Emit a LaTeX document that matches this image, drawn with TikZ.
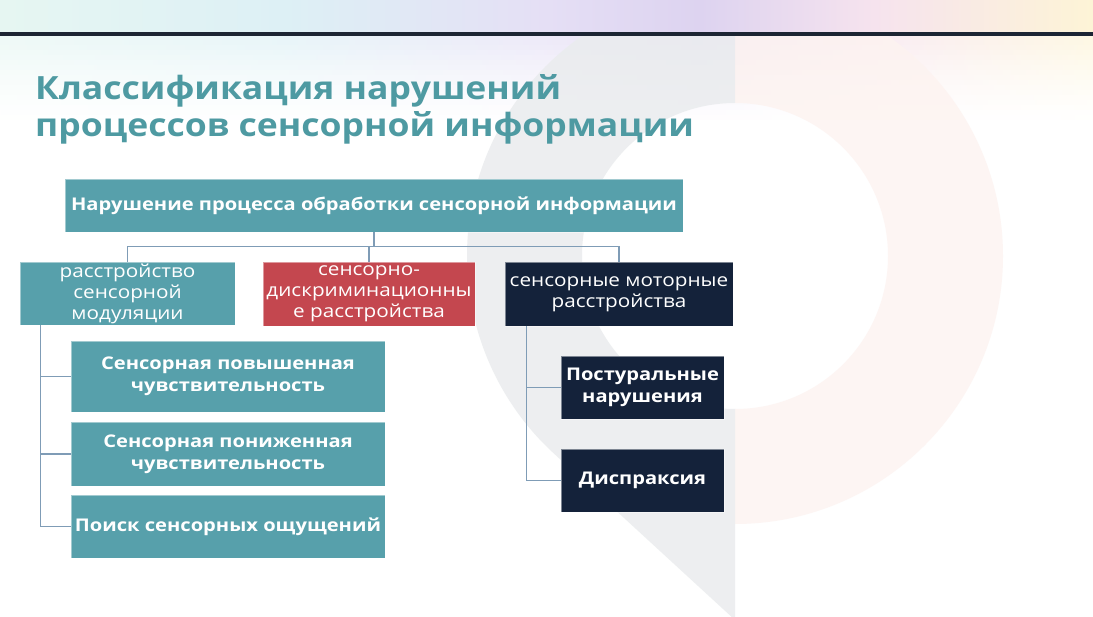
\documentclass[tikz,border=0pt]{standalone}
\usepackage{fontspec}
\setmainfont{Open Sans}[FakeStretch=1.15]
\newfontfamily\titlefont{Open Sans}[FakeStretch=1.11]
\usetikzlibrary{calc}
\definecolor{tealbox}{HTML}{57A0AB}
\definecolor{titleteal}{HTML}{4E9AA2}
\definecolor{redbox}{HTML}{C4474F}
\definecolor{navybox}{HTML}{14223A}
\definecolor{conn}{HTML}{7F9CB6}
\definecolor{topline}{HTML}{1C2533}
\definecolor{ringgray}{HTML}{EAECEE}
\definecolor{ringpink}{HTML}{FDF3F0}
\definecolor{bandA}{HTML}{E6F6F2}
\definecolor{bandB}{HTML}{DDF0F5}
\definecolor{bandC}{HTML}{E5DFF5}
\definecolor{bandD}{HTML}{DDD3F0}
\definecolor{bandE}{HTML}{F6E3EE}
\definecolor{bandF}{HTML}{FDF4D6}
\pgfdeclarehorizontalshading{band}{100bp}{color(0bp)=(bandA); color(25bp)=(bandA); color(38bp)=(bandB); color(50bp)=(bandC); color(57bp)=(bandD); color(65bp)=(bandE); color(75bp)=(bandF); color(100bp)=(bandF)}
\tikzset{
  box/.style={rectangle, inner sep=0pt, align=center, text=white, draw=white, draw opacity=0.45, line width=0.8pt},
  tealfill/.style={box, fill=tealbox},
  redfill/.style={box, fill=redbox},
  navyfill/.style={box, fill=navybox},
  boldtxt/.style={font=\fontsize{17.5}{22}\selectfont\bfseries},
  regtxt/.style={font=\fontsize{18}{21}\selectfont},
  titletxt/.style={font=\titlefont\fontsize{32}{37}\selectfont\bfseries, text=titleteal, inner sep=0pt},
  connline/.style={draw=conn, line width=1.7pt}
}
\begin{document}
\begin{tikzpicture}[x=1pt,y=-1pt]
\useasboundingbox (0,0) rectangle (1093,617);
\fill[white] (0,0) rectangle (1093,617);
% fading tint below the top line
\foreach \i in {0,...,17} {
  \pgfmathtruncatemacro\p{70*(1-\i/18)^1.3}
  \pgfdeclarehorizontalshading{fade\i}{100bp}{color(0bp)=(bandA!\p!white); color(25bp)=(bandA!\p!white); color(38bp)=(bandB!\p!white); color(50bp)=(bandC!\p!white); color(57bp)=(bandD!\p!white); color(65bp)=(bandE!\p!white); color(75bp)=(bandF!\p!white); color(100bp)=(bandF!\p!white)}
  \shade[shading=fade\i] (0,{36+5*\i}) rectangle (1093,{42+5*\i});
}
% background ring
\fill[ringpink, opacity=0.8] (735,-12) arc[start angle=-90,end angle=90,radius=268] -- (735,409) arc[start angle=90,end angle=-90,radius=153] -- cycle;
\fill[ringgray, opacity=0.85] (735,-12) arc[start angle=-90,end angle=-228,radius=268] -- (735,620) -- (735,409) arc[start angle=90,end angle=270,radius=153] -- cycle;
% top band
\shade[shading=band] (0,0) rectangle (1093,33);
\fill[topline] (0,32.5) rectangle (1093,36);
% title
\node[titletxt, anchor=base west] (t1) at (35,100) {Классификация нарушений};
\node[titletxt, anchor=base west] (t2) at (35,137) {процессов сенсорной информации};
% main
\node[tealfill, boldtxt, minimum width=618pt, minimum height=53pt] (main) at (374,205.5) {Нарушение процесса обработки сенсорной информации};
\node[tealfill, regtxt, minimum width=215pt, minimum height=63pt] (b1) at (127.5,293.5) {расстройство\\сенсорной\\модуляции};
\node[redfill, regtxt, minimum width=212pt, minimum height=64pt] (b2) at (369,294) {сенсорно-\\дискриминационны\\е расстройства};
\node[navyfill, regtxt, minimum width=228pt, minimum height=64pt] (b3) at (619,294) {сенсорные моторные\\расстройства};
\node[tealfill, boldtxt, minimum width=314pt, minimum height=71pt] (s1) at (228,376.5) {Сенсорная повышенная\\чувствительность};
\node[tealfill, boldtxt, minimum width=314pt, minimum height=64pt] (s2) at (228,454) {Сенсорная пониженная\\чувствительность};
\node[tealfill, boldtxt, minimum width=314pt, minimum height=63pt] (s3) at (228,526.5) {Поиск сенсорных ощущений};
\node[navyfill, boldtxt, minimum width=163pt, minimum height=63pt] (p1) at (642.5,387.5) {Постуральные\\нарушения};
\node[navyfill, boldtxt, minimum width=163pt, minimum height=63pt] (p2) at (642.5,480.5) {Диспраксия};
% connectors
\draw[connline] (main.south) -- ++(0,14) coordinate (j);
\draw[connline] (b1.north) |- (j) -| (b3.north);
\draw[connline] (b2.north) -- (b2.north |- j);
\coordinate (lt) at ($(b1.south west)+(21,0)$);
\draw[connline] (lt) |- (s1.west);
\draw[connline] (lt) |- (s2.west);
\draw[connline] (lt) |- (s3.west);
\coordinate (rt) at ($(b3.south west)+(22,0)$);
\draw[connline] (rt) |- (p1.west);
\draw[connline] (rt) |- (p2.west);
\end{tikzpicture}
\end{document}
